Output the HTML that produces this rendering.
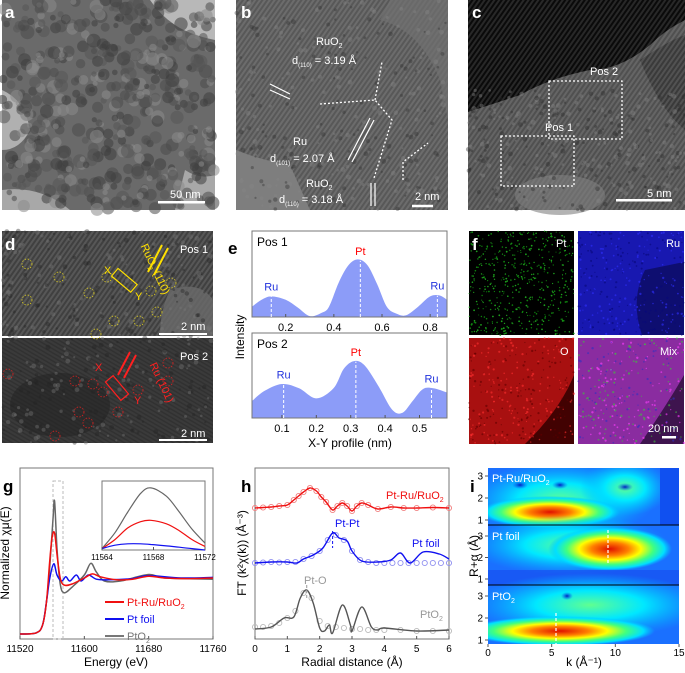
<!DOCTYPE html>
<html><head><meta charset="utf-8">
<style>
html,body{margin:0;padding:0;background:#fff;}
svg{display:block;font-family:"Liberation Sans",Arial,sans-serif;}
</style></head>
<body>
<svg id="fig" width="685" height="673" viewBox="0 0 685 673" xmlns="http://www.w3.org/2000/svg">
<defs>
 <pattern id="lattice" width="4" height="4" patternUnits="userSpaceOnUse" patternTransform="rotate(35)">
  <rect width="2" height="4" fill="#fff" opacity="0.12"/>
 </pattern>
 <pattern id="lattice2" width="3.5" height="3.5" patternUnits="userSpaceOnUse" patternTransform="rotate(-60)">
  <rect width="1.5" height="3.5" fill="#000" opacity="0.15"/>
 </pattern>
 <radialGradient id="hot" cx="50%" cy="50%" r="50%">
  <stop offset="0" stop-color="#e01000"/><stop offset="0.3" stop-color="#ff8000"/>
  <stop offset="0.5" stop-color="#ffff00"/><stop offset="0.7" stop-color="#40ff80"/>
  <stop offset="0.88" stop-color="#00e0ff"/><stop offset="1" stop-color="#00c0ff" stop-opacity="0"/>
 </radialGradient>
 <radialGradient id="cyan" cx="50%" cy="50%" r="50%">
  <stop offset="0" stop-color="#60ff90"/><stop offset="0.45" stop-color="#00e8ff"/>
  <stop offset="1" stop-color="#00b0ff" stop-opacity="0"/>
 </radialGradient>
 <radialGradient id="darkb" cx="50%" cy="50%" r="50%">
  <stop offset="0" stop-color="#0020c0"/><stop offset="1" stop-color="#0060ff" stop-opacity="0"/>
 </radialGradient>
</defs>

<!-- Panel a -->
<g id="imgA">
 <rect x="2" y="0" width="213" height="210" fill="#6a6a6a"/>
 <path d="M150,0 L215,0 L215,40 Q190,35 175,25 Q160,15 150,0 Z" fill="#b8b8b8"/>
 <path d="M2,90 Q25,100 30,130 Q20,150 2,150 Z" fill="#b0b0b0"/>
 <path d="M2,190 Q40,185 70,210 L2,210 Z" fill="#a8a8a8"/>
 <path d="M185,170 Q200,180 215,175 L215,210 L175,210 Z" fill="#a8a8a8"/>
</g>
<g>
 <text x="5" y="18" font-size="17" font-weight="bold" fill="#fff">a</text>
 <text x="170" y="198" font-size="11" fill="#fff">50 nm</text>
 <rect x="158" y="201" width="47" height="2.5" fill="#fff"/>
</g>

<!-- Panel b -->
<g id="imgB">
 <rect x="236" y="0" width="212" height="210" fill="#585858"/>
 <rect x="236" y="0" width="212" height="210" fill="url(#lattice)"/>
 <path d="M236,150 Q260,160 290,165 L310,210 L236,210 Z" fill="#7e7e7e"/>
 <path d="M380,20 Q420,30 440,80 L448,120 L448,0 L390,0 Z" fill="#707070" opacity="0.7"/>
</g>
<g>
 <g fill="#fff" font-size="11">
  <text x="316" y="45">RuO<tspan font-size="7" dy="3">2</tspan></text>
  <text x="292" y="64">d<tspan font-size="6" dy="3">(110)</tspan><tspan dy="-3"> = 3.19 Å</tspan></text>
  <text x="293" y="145">Ru</text>
  <text x="270" y="162">d<tspan font-size="6" dy="3">(101)</tspan><tspan dy="-3"> = 2.07 Å</tspan></text>
  <text x="306" y="187">RuO<tspan font-size="7" dy="3">2</tspan></text>
  <text x="279" y="203">d<tspan font-size="6" dy="3">(110)</tspan><tspan dy="-3"> = 3.18 Å</tspan></text>
  <text x="415" y="200" font-size="11">2 nm</text>
 </g>
 <g stroke="#fff" stroke-width="1.3" fill="none" stroke-dasharray="2,2">
  <path d="M320,104 L375,100 L392,120 L374,178"/><path d="M375,100 L382,62"/>
  <path d="M403,180 L403,162 L428,143"/>
 </g>
 <g stroke="#fff" stroke-width="1.2">
  <line x1="270" y1="84" x2="290" y2="94"/><line x1="270" y1="90" x2="290" y2="99"/>
  <line x1="348" y1="160" x2="370" y2="118"/><line x1="352" y1="162" x2="374" y2="120"/>
  <line x1="371" y1="183" x2="371" y2="206"/><line x1="375" y1="183" x2="375" y2="206"/>
  <line x1="412" y1="206" x2="433" y2="206" stroke-width="2.5"/>
 </g>
 <text x="241" y="18" font-size="17" font-weight="bold" fill="#fff">b</text>
</g>

<!-- Panel c -->
<g id="imgC">
 <rect x="468" y="0" width="217" height="210" fill="#505050"/>
 <path d="M468,0 L685,0 L685,20 Q665,30 650,45 Q620,70 590,70 Q550,78 520,95 Q490,105 468,112 Z" fill="#0a0a0a"/>
 <path d="M640,60 Q670,40 685,35 L685,130 Q660,110 640,60 Z" fill="#3a3a3a"/>
 <rect x="468" y="0" width="217" height="210" fill="url(#lattice)"/>
 <ellipse cx="560" cy="195" rx="45" ry="20" fill="#808080" opacity="0.6"/>
</g>
<g>
 <g stroke="#fff" stroke-width="1.3" fill="none" stroke-dasharray="2,2">
  <rect x="549" y="81" width="73" height="58"/>
  <rect x="501" y="136" width="73" height="50"/>
 </g>
 <g fill="#fff" font-size="11"><text x="590" y="75">Pos 2</text><text x="545" y="131">Pos 1</text><text x="647" y="197">5 nm</text></g>
 <rect x="616" y="199" width="56" height="2.5" fill="#fff"/>
 <text x="472" y="18" font-size="17" font-weight="bold" fill="#fff">c</text>
</g>

<!-- Panel d -->
<g id="imgD">
 <rect x="2" y="231" width="211" height="105" fill="#404040"/>
 <rect x="2" y="231" width="211" height="105" fill="url(#lattice)"/>
 <path d="M170,290 Q200,280 213,300 L213,336 L160,336 Q160,310 170,290 Z" fill="#6a6a6a" opacity="0.8"/>
 <rect x="2" y="338" width="211" height="105" fill="#3a3a3a"/>
 <rect x="2" y="338" width="211" height="105" fill="url(#lattice2)"/>
 <ellipse cx="60" cy="405" rx="50" ry="32" fill="#252525" opacity="0.6"/>
</g>
<g>
 <g fill="none" stroke="#e0d020" stroke-width="0.8" stroke-dasharray="1.5,1.5">
  <circle cx="27" cy="264" r="5"/><circle cx="59" cy="277" r="5"/><circle cx="27" cy="300" r="5"/><circle cx="89" cy="293" r="5"/>
  <circle cx="107" cy="277" r="5"/><circle cx="96" cy="334" r="5"/><circle cx="114" cy="321" r="5"/><circle cx="139" cy="321" r="5"/>
  <circle cx="151" cy="291" r="5"/><circle cx="157" cy="312" r="5"/><circle cx="171" cy="283" r="5"/>
 </g>
 <rect x="112" y="275" width="25" height="10" transform="rotate(40 124 280)" fill="none" stroke="#ffe000" stroke-width="1.2"/>
 <g stroke="#ffe000" stroke-width="2"><line x1="148" y1="272" x2="162" y2="245"/><line x1="154" y1="275" x2="168" y2="248"/></g>
 <g fill="#ffe000" font-size="11"><text x="104" y="274">X</text><text x="135" y="300">Y</text>
 <text x="120" y="252" transform="rotate(65 135 265)">RuO<tspan font-size="7" dy="3">2</tspan><tspan dy="-3"> (110)</tspan></text></g>
 <g fill="none" stroke="#e02020" stroke-width="0.8" stroke-dasharray="1.5,1.5">
  <circle cx="8" cy="374" r="5"/><circle cx="75" cy="381" r="5"/><circle cx="93" cy="384" r="5"/><circle cx="103" cy="392" r="5"/>
  <circle cx="79" cy="412" r="5"/><circle cx="88" cy="423" r="5"/><circle cx="118" cy="412" r="5"/><circle cx="138" cy="390" r="5"/>
  <circle cx="168" cy="363" r="5"/><circle cx="168" cy="381" r="5"/><circle cx="55" cy="436" r="5"/>
 </g>
 <rect x="105" y="383" width="24" height="10" transform="rotate(50 117 388)" fill="none" stroke="#ff2020" stroke-width="1.2"/>
 <g stroke="#ff2020" stroke-width="2"><line x1="118" y1="375" x2="130" y2="352"/><line x1="124" y1="378" x2="136" y2="355"/></g>
 <g fill="#ff2020" font-size="11"><text x="95" y="371">X</text><text x="134" y="404">Y</text>
 <text x="130" y="365" transform="rotate(65 140 380)">Ru (101)</text></g>
 <g fill="#fff" font-size="11"><text x="180" y="253">Pos 1</text><text x="180" y="360">Pos 2</text>
 <text x="181" y="330">2 nm</text><text x="181" y="437">2 nm</text></g>
 <rect x="159" y="333" width="48" height="2" fill="#fff"/><rect x="159" y="439" width="48" height="2" fill="#fff"/>
 <text x="5" y="250" font-size="17" font-weight="bold" fill="#fff">d</text>
</g>

<!-- Panel e -->
<g id="panelE">
 <text x="228" y="254" font-size="17" font-weight="bold" fill="#000">e</text>
 <text transform="translate(244,337) rotate(-90)" font-size="12" text-anchor="middle">Intensity</text>
 <text x="350" y="447" font-size="12" text-anchor="middle">X-Y profile (nm)</text>
</g>

<!-- Panel f -->
<g id="imgF">
 <rect x="469" y="231" width="105" height="104" fill="#000"/>
 <rect x="578" y="231" width="106" height="104" fill="#1818b0"/>
 <path d="M645,270 Q630,300 642,335 L684,335 L684,262 Z" fill="#0c0c60" opacity="0.8"/>
 <rect x="469" y="338" width="105" height="106" fill="#a81010"/>
 <path d="M525,444 Q560,410 574,375 L574,444 Z" fill="#300000" opacity="0.85"/>
 <rect x="578" y="338" width="106" height="106" fill="#8a2ca0"/>
 <path d="M640,444 Q670,400 684,375 L684,444 Z" fill="#301040" opacity="0.85"/>
</g>
<g>
 <g fill="#fff" font-size="11"><text x="556" y="247">Pt</text><text x="666" y="247">Ru</text><text x="560" y="355">O</text><text x="660" y="355">Mix</text><text x="648" y="432">20 nm</text></g>
 <rect x="662" y="436" width="14" height="2.5" fill="#fff"/>
 <text x="472" y="250" font-size="17" font-weight="bold" fill="#fff">f</text>
</g>

<!-- Panel g -->
<g id="panelG">
 <text x="3" y="492" font-size="17" font-weight="bold">g</text>
 <text transform="translate(9,553) rotate(-90)" font-size="12" text-anchor="middle">Normalized χμ(E)</text>
 <text x="116" y="666" font-size="12" text-anchor="middle">Energy (eV)</text>
</g>

<!-- Panel h -->
<g id="panelH">
 <text x="241" y="492" font-size="17" font-weight="bold">h</text>
 <text transform="translate(246,553) rotate(-90)" font-size="12" text-anchor="middle">FT (k²χ(k)) (Å⁻³)</text>
 <text x="352" y="666" font-size="12" text-anchor="middle">Radial distance (Å)</text>
</g>

<!-- Panel i -->
<g id="panelI">
 <svg x="488" y="468" width="191" height="176" viewBox="488 468 191 176" overflow="hidden">
  <rect x="488" y="468" width="191" height="176" fill="#1a70ff"/>
  <!-- sub 1 -->
  <ellipse cx="560" cy="500" rx="95" ry="38" fill="url(#cyan)"/>
  <ellipse cx="625" cy="488" rx="45" ry="28" fill="url(#cyan)"/>
  <ellipse cx="550" cy="512" rx="70" ry="16" fill="url(#hot)"/>
  <rect x="660" y="468" width="19" height="57" fill="#1050f0"/>
  <!-- sub 2 -->
  <ellipse cx="570" cy="545" rx="100" ry="30" fill="url(#cyan)"/>
  <ellipse cx="610" cy="549" rx="62" ry="22" fill="url(#hot)"/>
  <rect x="488" y="570" width="191" height="15" fill="#1850f0" opacity="0.7"/>
  <!-- sub 3 -->
  <ellipse cx="590" cy="605" rx="120" ry="32" fill="url(#cyan)"/>
  <ellipse cx="560" cy="631" rx="95" ry="15" fill="url(#hot)"/>
  <ellipse cx="567" cy="596" rx="6" ry="4" fill="url(#darkb)"/>
  <ellipse cx="520" cy="485" rx="8" ry="4" fill="url(#darkb)"/>
  <ellipse cx="560" cy="485" rx="8" ry="4" fill="url(#darkb)"/>
  <ellipse cx="625" cy="487" rx="8" ry="4" fill="url(#darkb)"/>
  <line x1="488" y1="525" x2="679" y2="525" stroke="#000" stroke-width="1"/>
  <line x1="488" y1="585" x2="679" y2="585" stroke="#000" stroke-width="1"/>
  <line x1="608" y1="530" x2="608" y2="565" stroke="#fff" stroke-width="1.2" stroke-dasharray="3,2"/>
  <line x1="556" y1="613" x2="556" y2="644" stroke="#fff" stroke-width="1.2" stroke-dasharray="3,2"/>
 </svg>
 <g fill="#fff" font-size="11"><text x="492" y="482">Pt-Ru/RuO<tspan font-size="7" dy="3">2</tspan></text><text x="492" y="540">Pt foil</text><text x="492" y="600">PtO<tspan font-size="7" dy="3">2</tspan></text></g>
 <text x="470" y="492" font-size="17" font-weight="bold">i</text>
 <text transform="translate(478,556) rotate(-90)" font-size="12" text-anchor="middle">R+α (Å)</text>
 <text x="584" y="666" font-size="12" text-anchor="middle">k (Å⁻¹)</text>
</g>
</svg>

<script>
// ===== Panel e data =====
const e1X = [0.06,0.1,0.14,0.2,0.25,0.3,0.35,0.38,0.42,0.46,0.5,0.54,0.58,0.62,0.66,0.7,0.75,0.8,0.84,0.87];
const e1Y = [0.12,0.2,0.24,0.2,0.11,0.01,0.05,0.12,0.4,0.6,0.67,0.6,0.38,0.12,0.04,0.02,0.12,0.24,0.25,0.2];
const e2X = [0.013,0.05,0.1,0.15,0.2,0.25,0.28,0.31,0.34,0.38,0.42,0.45,0.48,0.51,0.54,0.58];
const e2Y = [0.2,0.32,0.4,0.35,0.23,0.35,0.58,0.67,0.62,0.38,0.1,0.06,0.2,0.34,0.35,0.3];
const e1Ticks = [0.2,0.4,0.6,0.8];
const e2Ticks = [0.1,0.2,0.3,0.4,0.5];
const e1Peaks = [0.14,0.51,0.83];
const e2Peaks = [0.105,0.315,0.535];
const peakNames = ["Ru","Pt","Ru"];

// ===== Panel g data =====
const gRedE = [11520,11540,11548,11553,11557,11560,11563,11566,11570,11575,11585,11600,11610,11620,11640,11660,11680,11700,11730,11760];
const gRedV = [0.05,0.07,0.2,0.6,1.3,1.7,1.76,1.4,1.0,0.88,0.9,1.0,1.07,1.02,0.97,0.98,1.03,1.0,0.99,1.0];
const gGrayE = [11520,11540,11548,11553,11557,11561,11563,11566,11570,11575,11585,11600,11608,11615,11625,11645,11680,11700,11760];
const gGrayV = [0.05,0.07,0.2,0.6,1.2,2.0,2.3,1.5,0.9,0.75,0.85,1.05,1.25,1.1,0.95,0.95,1.06,1.0,0.98];
const gBlueE = [11520,11540,11548,11553,11557,11562,11566,11572,11577,11582,11590,11596,11605,11615,11630,11660,11680,11720,11760];
const gBlueV = [0.05,0.07,0.2,0.6,1.0,1.24,1.05,0.95,1.02,0.95,1.05,0.95,1.05,0.98,0.97,0.99,1.04,1.0,1.01];
const gTicks = [11520,11600,11680,11760];
const insE = [11564,11565,11566,11567,11567.8,11569,11570,11571,11572];
const insGray = [0.02,0.25,0.55,0.82,0.9,0.78,0.55,0.3,0.1];
const insRed = [0.02,0.15,0.32,0.41,0.43,0.38,0.28,0.15,0.05];
const insBlue = [0.02,0.07,0.09,0.09,0.08,0.06,0.04,0.02,0.0];
const insTicks = [11564,11568,11572];

// ===== Panel h data =====
const hRedR = [0,0.25,0.5,0.75,1.0,1.2,1.35,1.5,1.7,1.9,2.05,2.2,2.4,2.55,2.7,2.85,3.0,3.15,3.3,3.5,3.8,4.2,4.6,5.0,5.5,6.0];
const hRedV = [0,0.05,0.1,0.2,0.3,0.8,1.2,1.6,2.0,1.7,1.1,0.6,-0.2,0.2,0.5,0.2,-0.3,0.2,0.5,0.3,-0.1,0.1,0.0,0.0,0.05,0.0];
const hBlueR = [0,0.5,1.0,1.3,1.5,1.8,2.1,2.4,2.6,2.85,3.0,3.3,3.8,4.2,4.5,4.8,5.2,5.7,6.0];
const hBlueV = [0,0.1,0.1,0.0,0.4,0.8,1.5,3.0,2.5,2.2,1.2,0.2,0.1,0.3,1.0,0.0,1.1,0.9,0.4];
const hBlueDataR = [0,0.25,0.5,0.75,1.0,1.25,1.5,1.75,2.0,2.25,2.5,2.75,3.0,3.25,3.5,3.75,4.0,4.25,4.5,4.75,5.0,5.25,5.5,5.75,6.0];
const hBlueDataV = [0,0.05,0.1,0.05,0.1,0.1,0.4,0.7,1.2,2.3,2.8,2.3,1.2,0.3,0.1,0.0,0.0,0.0,0.0,0.0,0.0,0.0,0.0,0.0,0.0];
const hGrayR = [0,0.5,0.9,1.2,1.4,1.6,1.8,2.0,2.15,2.3,2.4,2.7,2.95,3.0,3.3,3.6,3.8,4.0,5.0,6.0];
const hGrayV = [0.4,0.6,1.5,1.6,3.5,4.3,3.0,0.5,0.2,0.8,0.0,2.8,0.8,0.2,2.6,0.6,0.3,0.5,0.2,0.3];
const hGrayDataR = [0,0.25,0.5,0.75,1.0,1.25,1.5,1.75,2.0,2.25,2.5,2.75,3.0,3.25,3.5,3.75,4.0,4.5,5.0,5.5,6.0];
const hGrayDataV = [0.6,0.6,0.7,1.0,1.5,2.2,4.0,3.5,1.2,0.7,0.6,0.5,0.4,0.4,0.3,0.3,0.3,0.3,0.2,0.2,0.2];
const hOffsets = [13.1, 7.6, 0.6];
const hTicks = [0,1,2,3,4,5,6];

// ===== Panel i ticks =====
const iTicks = [0,5,10,15];
const iRTicks = [1,2,3];

const NS = "http://www.w3.org/2000/svg";
function mk(parent, tag, attrs){ const el=document.createElementNS(NS,tag); for(const k in attrs) el.setAttribute(k,attrs[k]); parent.appendChild(el); return el; }
function smooth(xs, ys, fx, fy){
  const p=xs.map((x,i)=>[fx(x),fy(ys[i])]); let d="M"+p[0][0]+","+p[0][1];
  for(let i=0;i<p.length-1;i++){const p0=p[i-1]||p[i],p1=p[i],p2=p[i+1],p3=p[i+2]||p2;
    d+="C"+(p1[0]+(p2[0]-p0[0])/6).toFixed(1)+","+(p1[1]+(p2[1]-p0[1])/6).toFixed(1)+" "+(p2[0]-(p3[0]-p1[0])/6).toFixed(1)+","+(p2[1]-(p3[1]-p1[1])/6).toFixed(1)+" "+p2[0].toFixed(1)+","+p2[1].toFixed(1);}
  return d;
}

// ----- image textures (deterministic speckle) -----
let seed = 12345;
function rnd(){ seed = (seed * 1103515245 + 12345) & 0x7fffffff; return seed / 0x7fffffff; }
function speckle(gid, x, y, w, h, n, rmin, rmax, colors, op){
  const g = document.getElementById(gid);
  for(let i=0;i<n;i++){
    mk(g,'circle',{cx:(x+rnd()*w).toFixed(1),cy:(y+rnd()*h).toFixed(1),r:(rmin+rnd()*(rmax-rmin)).toFixed(1),fill:colors[Math.floor(rnd()*colors.length)],opacity:op});
  }
}
speckle('imgA',2,0,213,210,520,2.5,7,["#3e3e3e","#4a4a4a","#8a8a8a","#555"],0.55);
speckle('imgB',236,0,212,210,300,1,2.5,["#888","#333"],0.4);
speckle('imgC',468,90,217,120,300,1,2.5,["#888","#2a2a2a"],0.4);
speckle('imgD',2,231,211,212,400,1,2.5,["#777","#222"],0.4);
speckle('imgF',469,231,105,104,500,0.5,0.9,["#20b020","#109010"],0.9);
speckle('imgF',578,231,106,104,300,0.6,1.2,["#3030ff","#08087a"],0.6);
speckle('imgF',469,338,105,106,300,0.6,1.2,["#ff3030","#600000"],0.6);
speckle('imgF',578,338,106,106,300,0.6,1.2,["#ff40ff","#3030c0","#40c040"],0.6);

// ----- e -----
const gE = document.getElementById('panelE');
function drawProfile(xs, ys, x0, x1, top, bot, ticks, peaks, label, tickY){
  const fx = v => 252 + (v - x0) / (x1 - x0) * 195;
  const fy = v => bot - v * (bot - top);
  const area = mk(gE,'path',{d: smooth(xs,ys,fx,fy)+"L"+fx(xs[xs.length-1])+","+bot+"L"+fx(xs[0])+","+bot+"Z", fill:"#8c9cf8"});
  
  
  const box = mk(gE,'rect',{x:252,y:top,width:195,height:bot-top,fill:"none",stroke:"#777","stroke-width":1});
  
  
  ticks.forEach(t=>{
    mk(gE,'line',{x1:fx(t),x2:fx(t),y1:bot,y2:bot-3,stroke:"#555"});
    const tx = mk(gE,'text',{x:fx(t),y:tickY,"font-size":11,"text-anchor":"middle"}); tx.textContent=t.toFixed(1);
    
    
  });
  peaks.forEach((p,i)=>{
    let k=0; while(k<xs.length-2 && xs[k+1]<p) k++;
    const v = ys[k]+(ys[k+1]-ys[k])*(p-xs[k])/(xs[k+1]-xs[k]);
    mk(gE,'line',{x1:fx(p),x2:fx(p),y1:bot,y2:fy(v),stroke:"#fff","stroke-width":1,"stroke-dasharray":"3,2"});
    const t = mk(gE,'text',{x:fx(p),y:fy(v)-6,"font-size":11,"text-anchor":"middle",fill:peakNames[i]==="Pt"?"#f00":"#2233dd"}); t.textContent=peakNames[i];
    
    
  });
  const l = mk(gE,'text',{x:257,y:top+15,"font-size":12}); l.textContent=label;
}
drawProfile(e1X,e1Y,0.06,0.87,231,317,e1Ticks,e1Peaks,"Pos 1",331);
drawProfile(e2X,e2Y,0.013,0.58,333,418,e2Ticks,e2Peaks,"Pos 2",432);

// ----- g -----
const gG = document.getElementById('panelG');
const gx = v => 20 + (v - 11520) / 240 * 193;
const gy = v => 637 - v * 59;
const gFrame = mk(gG,'rect',{x:20,y:468,width:193,height:171,fill:"none",stroke:"#777"});


mk(gG,'rect',{x:53,y:481,width:10,height:158,fill:"none",stroke:"#bbb","stroke-dasharray":"3,2"});
[[gGrayE,gGrayV,"#666","series-pto2"],[gBlueE,gBlueV,"#1010f0","series-pt-foil"],[gRedE,gRedV,"#f01010","series-pt-ru-ruo2"]].forEach(s=>{
  const p = mk(gG,'path',{d:smooth(s[0],s[1],gx,gy),fill:"none",stroke:s[2],"stroke-width":1.5});
  
  
});
gTicks.forEach(t=>{
  mk(gG,'line',{x1:gx(t),x2:gx(t),y1:639,y2:636,stroke:"#555"});
  const tx = mk(gG,'text',{x:gx(t),y:652,"font-size":10,"text-anchor":"middle"}); tx.textContent=t;
  
  
});
const ix = v => 102 + (v - 11564) / 8 * 103;
const iy = v => 550 - v * 69;
const inset = mk(gG,'rect',{x:102,y:481,width:103,height:69,fill:"#fff",stroke:"#777"});


[[insE,insGray,"#666"],[insE,insRed,"#f01010"],[insE,insBlue,"#1010f0"]].forEach(s=>{
  mk(gG,'path',{d:smooth(s[0],s[1],ix,iy),fill:"none",stroke:s[2],"stroke-width":1.2});
});
insTicks.forEach(t=>{
  mk(gG,'line',{x1:ix(t),x2:ix(t),y1:550,y2:547,stroke:"#555"});
  const tx = mk(gG,'text',{x:ix(t),y:560,"font-size":8,"text-anchor":"middle"}); tx.textContent=t;
});
[["Pt-Ru/RuO","2","#f01010",606],["Pt foil","","#1010f0",623],["PtO","2","#777",640]].forEach(l=>{
  const ln = mk(gG,'line',{x1:105,x2:124,y1:l[3]-4,y2:l[3]-4,stroke:l[2],"stroke-width":2});
  
  
  const t = mk(gG,'text',{x:127,y:l[3],"font-size":11,fill:l[2]}); t.textContent=l[0];
  if(l[1]){ const s=mk(t,'tspan',{"font-size":7,dy:3}); s.textContent=l[1]; }
});

// ----- h -----
const gH = document.getElementById('panelH');
const hx = v => 255 + v / 6 * 194;
const hFrame = mk(gH,'rect',{x:255,y:468,width:194,height:171,fill:"none",stroke:"#777"});


function hyFor(off){ return v => 639 - (off + v) * 10; }
const hSeries = [
  {lr:hRedR,lv:hRedV,dr:hRedR,dv:hRedV,c:"#f01010",cc:"#f08080",n:"pt-ru-ruo2"},
  {lr:hBlueR,lv:hBlueV,dr:hBlueDataR,dv:hBlueDataV,c:"#1010f0",cc:"#9090f0",n:"pt-foil"},
  {lr:hGrayR,lv:hGrayV,dr:hGrayDataR,dv:hGrayDataV,c:"#555",cc:"#bbb",n:"pto2"}
];
hSeries.forEach((s,i)=>{
  const fy = hyFor(hOffsets[i]);
  s.dr.forEach((r,j)=>{
    const c = mk(gH,'circle',{cx:hx(r),cy:fy(s.dv[j]),r:2.6,fill:"none",stroke:s.cc,"stroke-width":0.9});
    
    
  });
  const p = mk(gH,'path',{d:smooth(s.lr,s.lv,hx,fy),fill:"none",stroke:s.c,"stroke-width":1.4});
  
  
});
mk(gH,'line',{x1:hx(2.4),x2:hx(2.4),y1:531,y2:548,stroke:"#1010f0","stroke-dasharray":"3,2"});
mk(gH,'line',{x1:hx(1.6),x2:hx(1.6),y1:585,y2:600,stroke:"#999","stroke-dasharray":"3,2"});
[["Pt-Ru/RuO","2","#f01010",386,499],["Pt-Pt","","#1010f0",335,527],["Pt foil","","#1010f0",412,547],["Pt-O","","#999",304,584],["PtO","2","#999",420,618]].forEach(l=>{
  const t = mk(gH,'text',{x:l[3],y:l[4],"font-size":11,fill:l[2]}); t.textContent=l[0];
  
  
  if(l[1]){ const s=mk(t,'tspan',{"font-size":7,dy:3}); s.textContent=l[1]; }
});
hTicks.forEach(t=>{
  mk(gH,'line',{x1:hx(t),x2:hx(t),y1:639,y2:636,stroke:"#555"});
  const tx = mk(gH,'text',{x:hx(t),y:652,"font-size":10,"text-anchor":"middle"}); tx.textContent=t;
  
  
});

// ----- i -----
const gI = document.getElementById('panelI');
const kx = v => 488 + v / 15 * 191;
iTicks.forEach(t=>{
  mk(gI,'line',{x1:kx(t),x2:kx(t),y1:644,y2:647,stroke:"#555"});
  const tx = mk(gI,'text',{x:kx(t),y:656,"font-size":10,"text-anchor":"middle"}); tx.textContent=t;
  
  
});
[[520,22],[579,21.5],[640,22]].forEach(s=>{
  iRTicks.forEach(r=>{
    const y = s[0] - (r - 1) * s[1];
    mk(gI,'line',{x1:485,x2:488,y1:y,y2:y,stroke:"#555"});
    const tx = mk(gI,'text',{x:483,y:y+3.5,"font-size":10,"text-anchor":"end"}); tx.textContent=r;
  });
});
</script>
</body></html>
